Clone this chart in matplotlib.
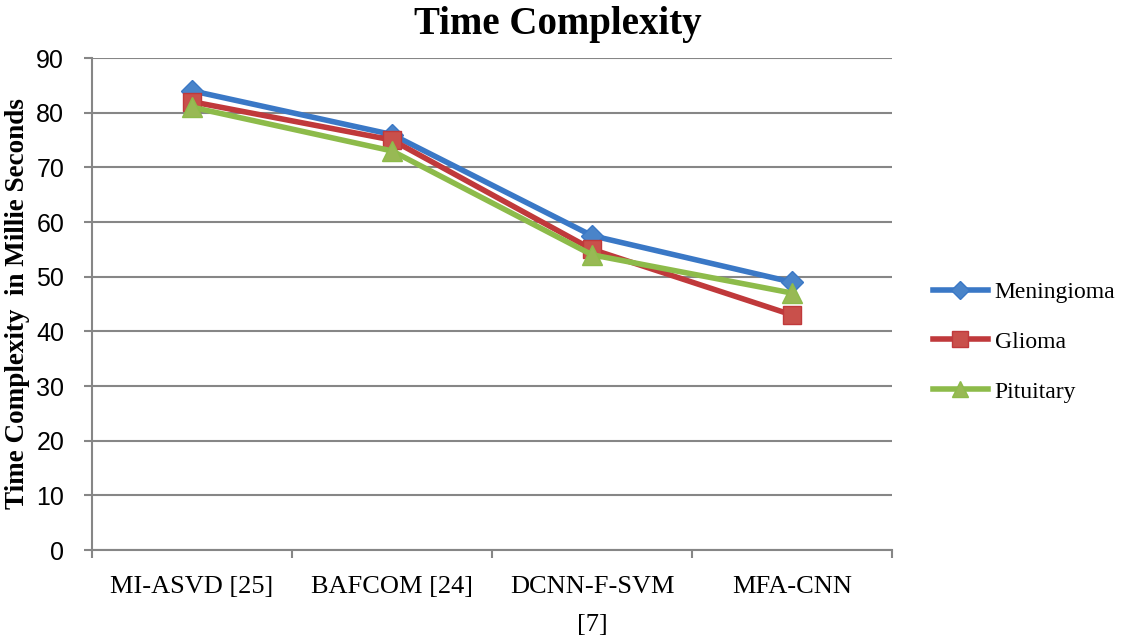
import matplotlib
matplotlib.use("Agg")
import matplotlib.pyplot as plt

categories = ["MI-ASVD [25]", "BAFCOM [24]", "DCNN-F-SVM\n[7]", "MFA-CNN"]
meningioma = [84, 76, 57.5, 49]
glioma = [82, 75, 55, 43]
pituitary = [81, 73, 54, 47]
yticks = [0, 10, 20, 30, 40, 50, 60, 70, 80, 90]

fig = plt.figure(figsize=(11.45, 6.39), dpi=100)
ax = fig.add_axes([92/1145, 89/639, 800/1145, 492/639])

x = list(range(len(categories)))
ax.plot(x, meningioma, color="#3a78c6", lw=4, marker="D", ms=11, mfc="#4a84c9", mec="#3a78c6", label="Meningioma", zorder=3)
ax.plot(x, glioma, color="#c0393b", lw=4, marker="s", ms=13, mfc="#c9504b", mec="#c0393b", label="Glioma", zorder=4)
ax.plot(x, pituitary, color="#8dbb4a", lw=4, marker="^", ms=14, mfc="#98b954", mec="#8dbb4a", label="Pituitary", zorder=5)

ax.set_xlim(-0.5, len(categories) - 0.5)
ax.set_ylim(0, 90)
ax.set_yticks(yticks)
ax.set_yticklabels([str(v) for v in yticks], fontfamily="Liberation Sans", fontsize=18)
ax.set_xticks(x)
ax.set_xticklabels(categories, fontfamily="Liberation Serif", fontsize=19, linespacing=1.9)
ax.set_xticks([i - 0.5 for i in range(len(categories) + 1)], minor=True)
ax.tick_params(axis="x", which="major", length=0, pad=19)
ax.tick_params(axis="x", which="minor", length=6, color="#868686", width=1.5)
ax.tick_params(axis="y", length=6, color="#868686", width=1.5, pad=14)

ax.grid(axis="y", color="#868686", lw=1.5)
ax.set_axisbelow(True)
for s in ["top", "right"]:
    ax.spines[s].set_visible(False)
for s in ["left", "bottom"]:
    ax.spines[s].set_color("#868686")
    ax.spines[s].set_linewidth(1.5)

ax.set_ylabel("Time Complexity  in Millie Seconds", fontfamily="Liberation Serif",
              fontweight="bold", fontsize=19.5)
ax.yaxis.set_label_coords((30 - 92) / 800, 0.5)
fig.text(0.487, 0.99, "Time Complexity", ha="center", va="top",
         fontfamily="Liberation Serif", fontweight="bold", fontsize=28)

leg = ax.legend(loc="center left", bbox_to_anchor=(1.025, 0.423), frameon=False,
                prop={"family": "Liberation Serif", "size": 17}, labelspacing=1.2,
                handlelength=2.3, handletextpad=0.3, markerscale=0.85)

fig.savefig("out.png", dpi=100)
